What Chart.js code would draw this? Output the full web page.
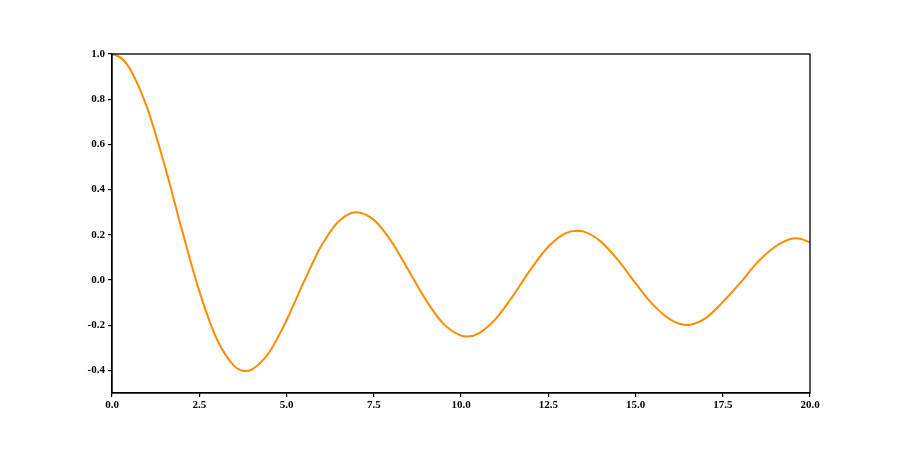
<!DOCTYPE html>
<html>
<head>
<meta charset="utf-8">
<script src="https://cdn.jsdelivr.net/npm/chart.js@4.4.1/dist/chart.umd.min.js"></script>
<style>
  html, body { margin: 0; padding: 0; background: #fff; }
  #wrap { width: 900px; height: 450px; }
</style>
</head>
<body>
<div id="wrap"><canvas id="c" width="900" height="450"></canvas></div>
<script>
// valeurs (pas de 0.5, plus les creux et sommets)
const xValues = [0, 0.25, 0.5, 1, 1.5, 2, 2.5, 3, 3.5, 3.83, 4, 4.5, 5, 5.5, 6, 6.5, 7, 7.5, 8, 8.5, 9, 9.5,
  10, 10.17, 10.5, 11, 11.5, 12, 12.5, 13, 13.32, 13.5, 14, 14.5, 15, 15.5, 16, 16.5, 17, 17.5, 18, 18.5, 19, 19.5, 19.62, 20];
const yValues = [1.0, 0.984, 0.938, 0.765, 0.512, 0.224, -0.048, -0.260, -0.380, -0.403, -0.397, -0.321, -0.178, -0.007,
  0.151, 0.260, 0.300, 0.266, 0.172, 0.042, -0.090, -0.194, -0.246, -0.250, -0.237, -0.171, -0.068, 0.048, 0.147,
  0.207, 0.218, 0.215, 0.171, 0.088, -0.014, -0.109, -0.175, -0.199, -0.170, -0.098, -0.013, 0.079, 0.147, 0.184, 0.185, 0.167];
const xTicks = [0, 2.5, 5, 7.5, 10, 12.5, 15, 17.5, 20];
const yTicks = [-0.4, -0.2, 0.0, 0.2, 0.4, 0.6, 0.8, 1.0];

const points = xValues.map((x, i) => ({ x: x, y: yValues[i] }));
const tickFont = { family: "'Liberation Serif', 'DejaVu Serif', serif", size: 11, weight: 'bold' };

// cadre complet autour de la zone de tracé
const cadre = {
  id: 'cadre',
  afterDatasetsDraw(chart) {
    const a = chart.chartArea;
    const ctx = chart.ctx;
    ctx.save();
    ctx.strokeStyle = '#000';
    ctx.lineWidth = 1.3;
    ctx.strokeRect(a.left, a.top, a.right - a.left, a.bottom - a.top);
    ctx.restore();
  }
};

new Chart(document.getElementById('c').getContext('2d'), {
  type: 'line',
  data: {
    datasets: [{
      data: points,
      borderColor: '#ff8c00',
      borderWidth: 2,
      pointRadius: 0,
      cubicInterpolationMode: 'monotone',
      fill: false
    }]
  },
  options: {
    responsive: false,
    animation: false,
    layout: { padding: { left: 0, right: 90, top: 54, bottom: 0 } },
    plugins: { legend: { display: false }, tooltip: { enabled: false } },
    scales: {
      x: {
        type: 'linear',
        min: 0,
        max: 20,
        afterBuildTicks: s => { s.ticks = xTicks.map(v => ({ value: v })); },
        afterFit: s => { s.height = 57; },
        grid: { drawOnChartArea: false, drawTicks: true, tickLength: 4, color: '#000', lineWidth: 1.2 },
        border: { display: true, color: '#000', width: 1.3 },
        ticks: { color: '#000', font: tickFont, padding: 2, maxRotation: 0, callback: v => v.toFixed(1) }
      },
      y: {
        type: 'linear',
        min: -0.5,
        max: 1.0,
        afterBuildTicks: s => { s.ticks = yTicks.map(v => ({ value: v })); },
        afterFit: s => { s.width = 112; },
        grid: { drawOnChartArea: false, drawTicks: true, tickLength: 4, color: '#000', lineWidth: 1.2 },
        border: { display: true, color: '#000', width: 1.3 },
        ticks: { color: '#000', font: tickFont, padding: 3, callback: v => v.toFixed(1) }
      }
    }
  },
  plugins: [cadre]
});
</script>
</body>
</html>
